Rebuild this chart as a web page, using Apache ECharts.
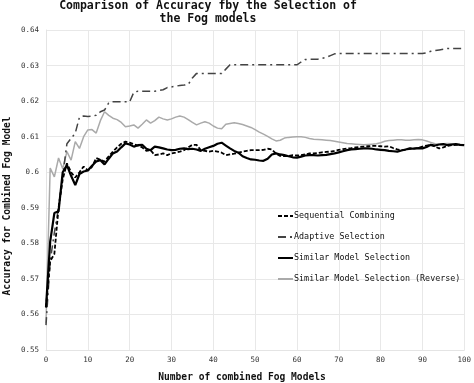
<!DOCTYPE html>
<html>
<head>
<meta charset="utf-8">
<script src="https://cdn.jsdelivr.net/npm/echarts@6/dist/echarts.min.js"></script>
<style>
html,body{margin:0;padding:0;background:#fff;}
#chart{width:474px;height:383px;}
</style>
</head>
<body>
<div id="chart"></div>
<script>
var titleText = ['Comparison of Accuracy fby the Selection of', 'the Fog models'];
var xAxisName = 'Number of combined Fog Models';
var yAxisName = 'Accuracy for Combined Fog Model';
var seriesNames = ['Sequential Combining', 'Adaptive Selection', 'Similar Model Selection', 'Similar Model Selection (Reverse)'];

var sequential = [0.562,0.575,0.577,0.590,0.598,0.6025,0.600,0.5985,0.600,0.6016,
0.6005,0.6015,0.604,0.6035,0.603,0.6045,0.6058,0.607,0.608,0.6086,
0.6083,0.6079,0.6075,0.607,0.606,0.6062,0.6048,0.605,0.6053,0.6048,
0.6053,0.6055,0.6058,0.6062,0.607,0.6077,0.6077,0.6062,0.606,0.6058,
0.606,0.6058,0.6055,0.6048,0.605,0.6052,0.6055,0.6058,0.606,0.6062,
0.6062,0.6062,0.6063,0.6066,0.6064,0.6052,0.6046,0.6045,0.6046,0.6048,
0.6047,0.6048,0.605,0.6053,0.6053,0.6054,0.6056,0.6057,0.6058,0.606,
0.6063,0.6065,0.6067,0.6068,0.607,0.6071,0.6072,0.6073,0.6074,0.6074,
0.6073,0.6072,0.6073,0.6068,0.6064,0.6062,0.6063,0.6066,0.6067,0.6068,
0.6072,0.6075,0.6077,0.6072,0.6067,0.607,0.6074,0.6076,0.6077,0.6077,0.6077];

var adaptive = [0.557,0.575,0.583,0.590,0.599,0.608,0.6095,0.611,0.6155,0.6158,
0.6157,0.6158,0.616,0.617,0.6175,0.6195,0.6198,0.6198,0.6198,0.6198,
0.6198,0.6225,0.6228,0.6228,0.6228,0.6228,0.6228,0.623,0.6232,0.6238,
0.624,0.6242,0.6244,0.6245,0.6247,0.6265,0.6278,0.6278,0.6278,0.6278,
0.6278,0.6278,0.6278,0.629,0.6302,0.6302,0.6302,0.6302,0.6302,0.6302,
0.6302,0.6302,0.6302,0.6302,0.6302,0.6302,0.6302,0.6302,0.6302,0.6302,
0.6302,0.631,0.6317,0.6318,0.6318,0.6318,0.632,0.6323,0.6328,0.6333,
0.6334,0.6334,0.6334,0.6334,0.6334,0.6334,0.6334,0.6334,0.6334,0.6334,
0.6334,0.6334,0.6334,0.6334,0.6334,0.6334,0.6334,0.6334,0.6334,0.6334,
0.6334,0.6336,0.634,0.6342,0.6344,0.6346,0.6348,0.6348,0.6348,0.6348,0.6348];

var similar = [0.562,0.5805,0.5885,0.589,0.600,0.602,0.599,0.5964,0.5995,0.6002,
0.6005,0.6018,0.603,0.6034,0.6022,0.6038,0.6053,0.6058,0.607,0.6081,
0.6078,0.6072,0.6076,0.6077,0.6066,0.6062,0.6072,0.607,0.6067,0.6064,
0.6062,0.6063,0.6066,0.6067,0.6065,0.6066,0.6064,0.606,0.6066,0.607,
0.6074,0.608,0.6083,0.6075,0.6067,0.606,0.6055,0.6045,0.604,0.6036,
0.6035,0.6033,0.6032,0.6038,0.605,0.6053,0.605,0.6048,0.6045,0.6042,
0.6041,0.6044,0.6047,0.6048,0.6048,0.6047,0.6048,0.6049,0.6051,0.6053,
0.6056,0.6059,0.6062,0.6064,0.6065,0.6066,0.6067,0.6067,0.6066,0.6064,
0.6063,0.6062,0.606,0.6059,0.6058,0.6061,0.6064,0.6067,0.6066,0.6068,
0.6067,0.6071,0.6077,0.6075,0.6078,0.6079,0.6076,0.6078,0.6079,0.6077,0.6076];

var reverse = [0.5575,0.6012,0.5987,0.604,0.601,0.6058,0.6034,0.6086,0.6067,0.610,
0.6119,0.612,0.611,0.6145,0.617,0.616,0.6152,0.6148,0.614,0.6128,
0.613,0.6133,0.6124,0.6135,0.6147,0.6138,0.6145,0.6155,0.615,0.6147,
0.615,0.6155,0.6158,0.6155,0.6148,0.614,0.6133,0.6138,0.6142,0.6138,
0.613,0.6124,0.6122,0.6135,0.6137,0.6139,0.6137,0.6134,0.613,0.6126,
0.612,0.6113,0.6107,0.6101,0.6094,0.6088,0.609,0.6096,0.6098,0.6099,
0.61,0.61,0.6098,0.6095,0.6093,0.6092,0.6091,0.609,0.6089,0.6087,
0.6085,0.6083,0.6081,0.608,0.6079,0.6078,0.6077,0.6078,0.6079,0.608,
0.6083,0.6087,0.6089,0.609,0.6091,0.6091,0.609,0.609,0.6091,0.6092,
0.6091,0.6088,0.6084,0.608,0.6079,0.608,0.6081,0.608,0.6079,0.6078,0.6077];

function pairs(arr){ return arr.map(function(v,i){ return [i, v]; }); }

var FONT = '"DejaVu Sans Mono", monospace';
var chart = echarts.init(document.getElementById('chart'), null, {renderer:'canvas'});
chart.setOption({
  animation: false,
  backgroundColor: '#fff',
  textStyle: {fontFamily: FONT},
  grid: {left: 46, right: 8, top: 30, bottom: 33, containLabel: false},
  graphic: [
    {type:'text', x: 208, y: 6.5, style:{text: titleText[0], font: 'bold 11.5px ' + FONT, fill:'#111', align:'center', verticalAlign:'middle'}},
    {type:'text', x: 208, y: 19.5, style:{text: titleText[1], font: 'bold 11.5px ' + FONT, fill:'#111', align:'center', verticalAlign:'middle'}},
    {type:'text', x: 242, y: 377, style:{text: xAxisName, font: 'bold 9.6px ' + FONT, fill:'#111', align:'center', verticalAlign:'middle'}},
    {type:'text', x: 7, y: 206, rotation: Math.PI/2, style:{text: yAxisName, font: 'bold 9.6px ' + FONT, fill:'#111', align:'center', verticalAlign:'middle'}}
  ],
  legend: {
    orient: 'vertical',
    left: 272, top: 207,
    itemWidth: 15, itemHeight: 10, itemGap: 13,
    itemStyle: {opacity: 0},
    textStyle: {fontFamily: FONT, fontSize: 8.4, color: '#111', padding:[0,0,0,-4]},
    data: seriesNames
  },
  xAxis: {
    type: 'value', min: 0, max: 100, interval: 10,
    axisLine: {show: true, lineStyle: {color: '#e4e4e4'}},
    axisTick: {show: false},
    axisLabel: {fontFamily: FONT, fontSize: 7.5, color: '#333', margin: 6},
    splitLine: {show: true, lineStyle: {color: '#e8e8e8', width: 1}}
  },
  yAxis: {
    type: 'value', min: 0.55, max: 0.64, interval: 0.01,
    axisLine: {show: true, lineStyle: {color: '#e4e4e4'}},
    axisTick: {show: false},
    axisLabel: {fontFamily: FONT, fontSize: 7.5, color: '#333', margin: 7},
    splitLine: {show: true, lineStyle: {color: '#e8e8e8', width: 1}}
  },
  series: [
    {name: seriesNames[0], type:'line', symbol:'none', data: pairs(sequential), z: 4,
     lineStyle:{color:'#000', width:1.8, type:[4,2]}, itemStyle:{color:'#000'}},
    {name: seriesNames[1], type:'line', symbol:'none', data: pairs(adaptive), z: 3,
     lineStyle:{color:'#444', width:1.5, type:[8,4,2,4]}, itemStyle:{color:'#444'}},
    {name: seriesNames[2], type:'line', symbol:'none', data: pairs(similar), z: 5,
     lineStyle:{color:'#000', width:2.2}, itemStyle:{color:'#000'}},
    {name: seriesNames[3], type:'line', symbol:'none', data: pairs(reverse), z: 2,
     lineStyle:{color:'#aaa', width:1.5}, itemStyle:{color:'#aaa'}}
  ]
});
</script>
</body>
</html>
